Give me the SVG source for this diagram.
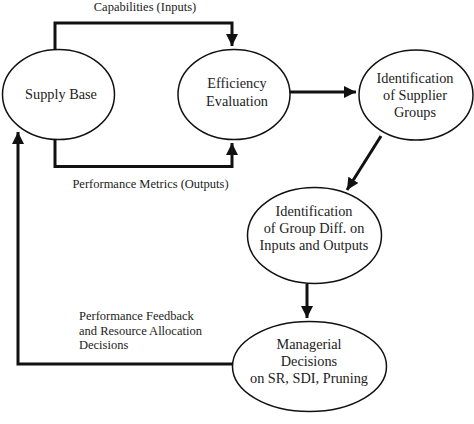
<svg xmlns="http://www.w3.org/2000/svg" width="474" height="424" viewBox="0 0 474 424">
<defs>
<marker id="ah" viewBox="0 0 10 10" refX="10" refY="5" markerWidth="4" markerHeight="4" orient="auto" markerUnits="strokeWidth">
<path d="M0,0 L10,5 L0,10 z" fill="#111"/>
</marker>
<style>
.n{fill:#fff;stroke:#111;stroke-width:1.5}
.t{font-family:"Liberation Serif",serif;font-size:14.3px;fill:#222;text-anchor:middle}
.l{font-family:"Liberation Serif",serif;font-size:12.5px;fill:#222}
.c{fill:none;stroke:#111;stroke-width:3;marker-end:url(#ah)}
</style>
</defs>
<rect width="474" height="424" fill="#fff"/>
<g id="connectors">
<path class="c" d="M55,49 V23 H232 V46"/>
<path class="c" d="M55,140 V166.5 H232 V143"/>
<path class="c" d="M290,92 H356"/>
<path class="c" d="M381,136 L347,190"/>
<path class="c" d="M307,284 V318"/>
<path class="c" d="M232,364 H18 V132"/>
</g>
<g id="labels">
<text class="l" x="145" y="11" text-anchor="middle">Capabilities (Inputs)</text>
<text class="l" x="150.5" y="188" text-anchor="middle">Performance Metrics (Outputs)</text>
<text class="l" x="79" y="320">Performance Feedback</text>
<text class="l" x="79" y="335">and Resource Allocation</text>
<text class="l" x="79" y="349">Decisions</text>
</g>
<g id="supply-base">
<ellipse class="n" cx="58.5" cy="94.5" rx="56" ry="45"/>
<text class="t" x="61" y="99">Supply Base</text>
</g>
<g id="efficiency-evaluation">
<ellipse class="n" cx="234" cy="94.5" rx="56" ry="45"/>
<text class="t" x="237" y="88">Efficiency</text>
<text class="t" x="237" y="106">Evaluation</text>
</g>
<g id="supplier-groups">
<ellipse class="n" cx="416" cy="95" rx="57" ry="45"/>
<text class="t" x="415" y="83">Identification</text>
<text class="t" x="415" y="100">of Supplier</text>
<text class="t" x="415" y="117">Groups</text>
</g>
<g id="group-diff">
<ellipse class="n" cx="314.5" cy="235.5" rx="67" ry="48"/>
<text class="t" x="314" y="216">Identification</text>
<text class="t" x="314" y="233">of Group Diff. on</text>
<text class="t" x="314" y="250">Inputs and Outputs</text>
</g>
<g id="managerial-decisions">
<ellipse class="n" cx="309.5" cy="366.5" rx="77" ry="45"/>
<text class="t" x="309" y="349">Managerial</text>
<text class="t" x="309" y="366">Decisions</text>
<text class="t" x="309" y="383">on SR, SDI, Pruning</text>
</g>
</svg>
